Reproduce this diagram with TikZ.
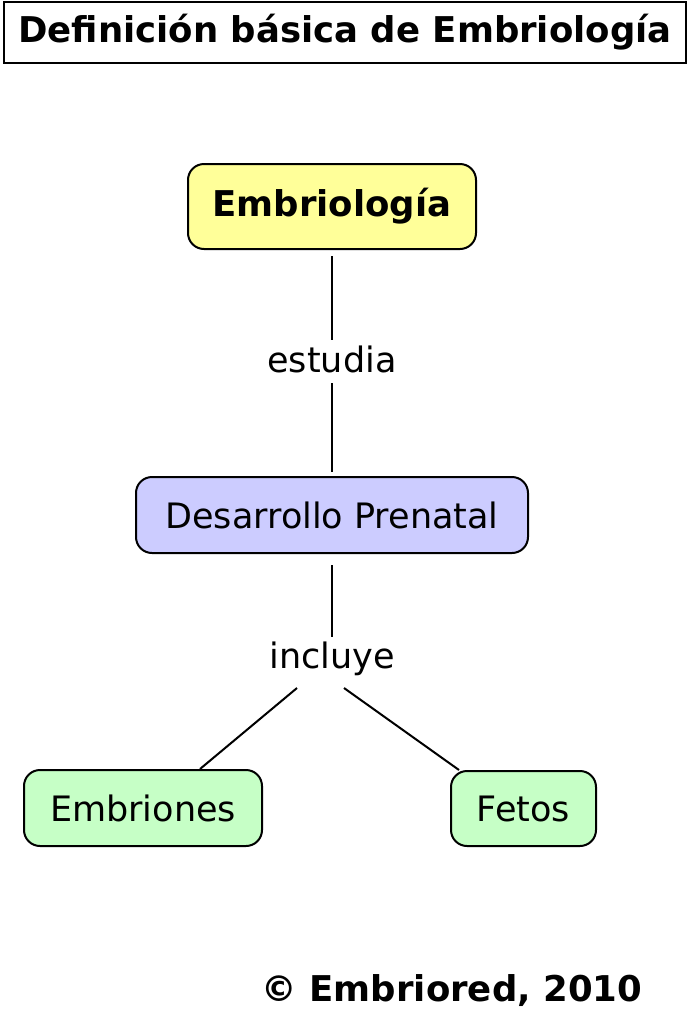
\documentclass[tikz,border=0pt]{standalone}
\usepackage{fontspec}
\setmainfont{DejaVu Sans}
\begin{document}
\begin{tikzpicture}[x=1pt,y=-1pt,
  box/.style={draw,line width=2pt,rounded corners=16pt,inner sep=0pt,font=\fontsize{35}{40}\selectfont},
  lbl/.style={inner sep=0pt,font=\fontsize{35}{40}\selectfont},
  conn/.style={line width=2pt}]
\useasboundingbox (0,0) rectangle (692,1031);
\node[draw,line width=2pt,minimum width=682pt,minimum height=61pt,inner sep=0pt,font=\bfseries\fontsize{35.5}{40}\selectfont] (title) at (345,32.5) {Definición básica de Embriología};
\node[box,fill={rgb,255:red,255;green,255;blue,153},minimum width=288pt,minimum height=85pt,font=\bfseries\fontsize{35.5}{40}\selectfont] (emb) at (332,206.5) {Embriología};
\node[lbl] (est) at (332,359) {estudia};
\node[box,fill={rgb,255:red,204;green,204;blue,255},minimum width=392pt,minimum height=76pt] (des) at (332,515) {Desarrollo Prenatal};
\node[lbl] (inc) at (332,659) {incluye};
\node[box,fill={rgb,255:red,198;green,255;blue,198},minimum width=238pt,minimum height=76pt] (embs) at (143,808) {Embriones};
\node[box,fill={rgb,255:red,198;green,255;blue,198},minimum width=145pt,minimum height=75pt] (fet) at (523.5,808.5) {Fetos};
\draw[conn] (emb.south |- 0,256) -- (est.north |- 0,340);
\draw[conn] (est.south |- 0,383) -- (des.north |- 0,472);
\draw[conn] (des.south |- 0,565) -- (inc.north |- 0,637);
\draw[conn] (297,688) -- (embs.north -| 200,0);
\draw[conn] (344,688) -- (fet.north -| 459,0);
\node[inner sep=0pt,font=\bfseries\fontsize{35.5}{40}\selectfont] (copy) at (452,991) {© Embriored, 2010};
\end{tikzpicture}
\end{document}
